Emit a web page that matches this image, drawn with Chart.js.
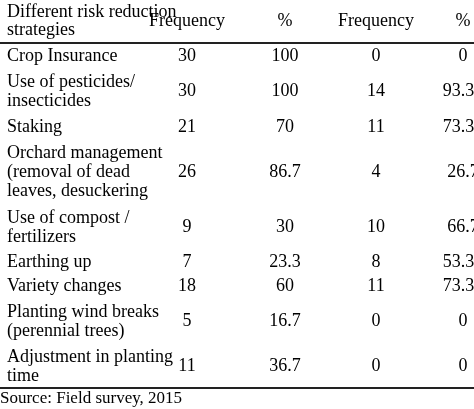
<!DOCTYPE html><html><head><script src="https://cdn.jsdelivr.net/npm/chart.js@4"></script>
<style>html,body{margin:0;background:#fff}</style></head><body>
<canvas id="c" width="474" height="409" style="width:474px;height:409px"></canvas>
<script>
const headers=["Frequency","%","Frequency","%"];
const strategies=[["Crop Insurance"],["Use of pesticides/","insecticides"],["Staking"],["Orchard management","(removal of dead","leaves, desuckering"],["Use of compost /","fertilizers"],["Earthing up"],["Variety changes"],["Planting wind breaks","(perennial trees)"],["Adjustment in planting","time"]];
const freq1=[30,30,21,26,9,7,18,5,11];
const pct1=["100","100","70","86.7","30","23.3","60","16.7","36.7"];
const freq2=[0,14,11,4,10,8,11,0,0];
const pct2=["0","93.34","73.34","26.7","66.7","53.34","73.34","0","0"];
const source="Source: Field survey, 2015";
const rowTop=[56,82,127,153,218,262,286,312,357];
const lineH=19.3;
const colX=[187,285,376,463];
const tablePlugin={id:'table',afterDraw(ch){
 const c=ch.ctx;c.save();c.fillStyle='#000';c.font='18px "Liberation Serif"';c.textBaseline='middle';
 c.textAlign='left';c.fillText("Different risk reduction",7,12);c.fillText("strategies",7,30);
 c.textAlign='center';headers.forEach((h,i)=>c.fillText(h,colX[i],21));
 c.strokeStyle='#222';c.lineWidth=2;c.beginPath();c.moveTo(0,43);c.lineTo(474,43);c.moveTo(0,388);c.lineTo(474,388);c.stroke();
 strategies.forEach((s,r)=>{c.textAlign='left';s.forEach((t,k)=>c.fillText(t,7,rowTop[r]+k*lineH));
  const mid=rowTop[r]+(s.length-1)*lineH/2;c.textAlign='center';
  [freq1[r],pct1[r],freq2[r],pct2[r]].forEach((v,i)=>c.fillText(String(v),colX[i],mid));});
 c.textAlign='left';c.font='17px "Liberation Serif"';c.fillText(source,0,399);c.restore();}};
new Chart(document.getElementById('c'),{type:'bar',data:{labels:strategies.map(s=>s.join(' ')),datasets:[{data:freq1,backgroundColor:'rgba(0,0,0,0)'}]},
options:{responsive:false,animation:false,plugins:{legend:{display:false},tooltip:{enabled:false}},scales:{x:{display:false},y:{display:false}}},plugins:[tablePlugin]});
</script></body></html>
